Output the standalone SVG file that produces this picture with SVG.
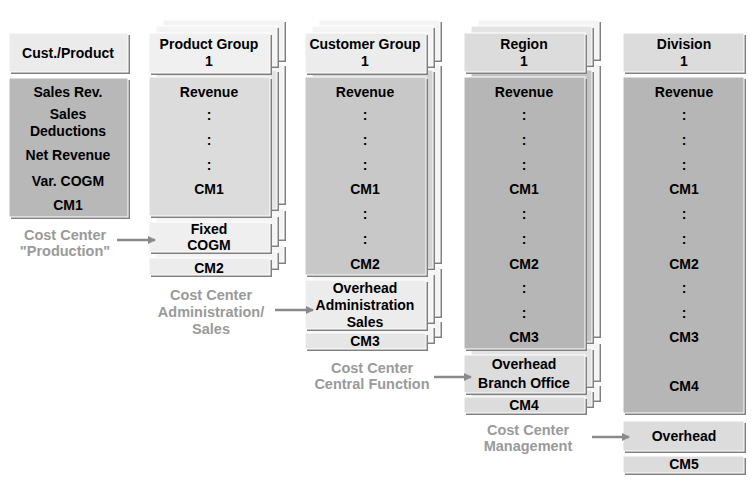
<svg xmlns="http://www.w3.org/2000/svg" width="755" height="481" viewBox="0 0 755 481">
<style>
text{font-family:"Liberation Sans",Arial,sans-serif;font-weight:bold;font-size:14px;text-anchor:middle;fill:#000}
.g{fill:#9a9a9a;font-size:14.5px}
.sh{fill:#808080}
.bx{stroke:#fff;stroke-width:1}
.cp{fill:#f4f4f4;stroke:#fff;stroke-width:1}
</style>
<defs>
<marker id="ah" markerWidth="8" markerHeight="8" refX="7" refY="4" orient="auto" markerUnits="userSpaceOnUse"><path d="M0,0 L8,4 L0,8 z" fill="#8a8a8a"/></marker>
</defs>
<rect width="755" height="481" fill="#fff"/>
<g id="stacks">
<g transform="translate(14,-13)">
<rect class="sh" x="151" y="35" width="121" height="40"/><rect class="cp" x="149" y="33" width="121" height="40"/>
<rect class="sh" x="151" y="79" width="121" height="139"/><rect class="cp" x="149" y="77" width="121" height="139"/>
<rect class="sh" x="151" y="224" width="121" height="30"/><rect class="cp" x="149" y="222" width="121" height="30"/>
<rect class="sh" x="151" y="260" width="121" height="17"/><rect class="cp" x="149" y="258" width="121" height="17"/>
<rect class="sh" x="307" y="35" width="121" height="40"/><rect class="cp" x="305" y="33" width="121" height="40"/>
<rect class="sh" x="307" y="79" width="121" height="198"/><rect class="cp" x="305" y="77" width="121" height="198"/>
<rect class="sh" x="307" y="282" width="121" height="49"/><rect class="cp" x="305" y="280" width="121" height="49"/>
<rect class="sh" x="307" y="335" width="121" height="16"/><rect class="cp" x="305" y="333" width="121" height="16"/>
<rect class="sh" x="466" y="35" width="121" height="39"/><rect class="cp" x="464" y="33" width="121" height="39"/>
<rect class="sh" x="466" y="79" width="121" height="272"/><rect class="cp" x="464" y="77" width="121" height="272"/>
<rect class="sh" x="466" y="357" width="121" height="38"/><rect class="cp" x="464" y="355" width="121" height="38"/>
<rect class="sh" x="466" y="399" width="121" height="16"/><rect class="cp" x="464" y="397" width="121" height="16"/>
</g>
<g transform="translate(7,-7)">
<rect class="sh" x="151" y="35" width="121" height="40"/><rect class="cp" x="149" y="33" width="121" height="40"/>
<rect class="sh" x="151" y="79" width="121" height="139"/><rect class="cp" x="149" y="77" width="121" height="139" style="fill:#e4e4e4"/>
<rect class="sh" x="151" y="224" width="121" height="30"/><rect class="cp" x="149" y="222" width="121" height="30"/>
<rect class="sh" x="151" y="260" width="121" height="17"/><rect class="cp" x="149" y="258" width="121" height="17"/>
<rect class="sh" x="307" y="35" width="121" height="40"/><rect class="cp" x="305" y="33" width="121" height="40"/>
<rect class="sh" x="307" y="79" width="121" height="198"/><rect class="cp" x="305" y="77" width="121" height="198" style="fill:#d4d4d4"/>
<rect class="sh" x="307" y="282" width="121" height="49"/><rect class="cp" x="305" y="280" width="121" height="49"/>
<rect class="sh" x="307" y="335" width="121" height="16"/><rect class="cp" x="305" y="333" width="121" height="16"/>
<rect class="sh" x="466" y="35" width="121" height="39"/><rect class="cp" x="464" y="33" width="121" height="39" style="fill:#e4e4e4"/>
<rect class="sh" x="466" y="79" width="121" height="272"/><rect class="cp" x="464" y="77" width="121" height="272" style="fill:#c4c4c4"/>
<rect class="sh" x="466" y="357" width="121" height="38"/><rect class="cp" x="464" y="355" width="121" height="38" style="fill:#e4e4e4"/>
<rect class="sh" x="466" y="399" width="121" height="16"/><rect class="cp" x="464" y="397" width="121" height="16" style="fill:#e4e4e4"/>
</g>
</g>
<g id="col0">
<rect class="sh" x="11" y="35" width="119" height="39"/><rect class="bx" x="9" y="33" width="119" height="39" fill="#ebebeb"/>
<rect class="sh" x="11" y="80" width="119" height="139"/><rect class="bx" x="9" y="78" width="119" height="139" fill="#b8b8b8"/>
<text x="68" y="58">Cust./Product</text>
<text x="68" y="97">Sales Rev.</text><text x="68" y="119">Sales</text><text x="68" y="136">Deductions</text>
<text x="68" y="160">Net Revenue</text><text x="68" y="186">Var. COGM</text><text x="68" y="210">CM1</text>
</g>
<g id="col1">
<rect class="sh" x="151" y="35" width="121" height="40"/><rect class="bx" x="149" y="33" width="121" height="40" fill="#f0f0f0"/>
<rect class="sh" x="151" y="79" width="121" height="139"/><rect class="bx" x="149" y="77" width="121" height="139" fill="#dcdcdc"/>
<rect class="sh" x="151" y="224" width="121" height="30"/><rect class="bx" x="149" y="222" width="121" height="30" fill="#efefef"/>
<rect class="sh" x="151" y="260" width="121" height="17"/><rect class="bx" x="149" y="258" width="121" height="17" fill="#ececec"/>
<text x="209" y="49">Product Group</text><text x="209" y="66">1</text>
<text x="209" y="97">Revenue</text><text x="209" y="120">:</text><text x="209" y="145">:</text><text x="209" y="170">:</text>
<text x="209" y="194">CM1</text><text x="209" y="234">Fixed</text><text x="209" y="250">COGM</text><text x="209" y="273">CM2</text>
</g>
<g id="col2">
<rect class="sh" x="307" y="35" width="121" height="40"/><rect class="bx" x="305" y="33" width="121" height="40" fill="#ececec"/>
<rect class="sh" x="307" y="79" width="121" height="198"/><rect class="bx" x="305" y="77" width="121" height="198" fill="#c8c8c8"/>
<rect class="sh" x="307" y="282" width="121" height="49"/><rect class="bx" x="305" y="280" width="121" height="49" fill="#ececec"/>
<rect class="sh" x="307" y="335" width="121" height="16"/><rect class="bx" x="305" y="333" width="121" height="16" fill="#e6e6e6"/>
<text x="365" y="49">Customer Group</text><text x="365" y="66">1</text>
<text x="365" y="97">Revenue</text><text x="365" y="120">:</text><text x="365" y="145">:</text><text x="365" y="170">:</text>
<text x="365" y="194">CM1</text><text x="365" y="219">:</text><text x="365" y="244">:</text><text x="365" y="269">CM2</text>
<text x="365" y="293">Overhead</text><text x="365" y="310">Administration</text><text x="365" y="327">Sales</text><text x="365" y="346">CM3</text>
</g>
<g id="col3">
<rect class="sh" x="466" y="35" width="121" height="39"/><rect class="bx" x="464" y="33" width="121" height="39" fill="#dcdcdc"/>
<rect class="sh" x="466" y="79" width="121" height="272"/><rect class="bx" x="464" y="77" width="121" height="272" fill="#b6b6b6"/>
<rect class="sh" x="466" y="357" width="121" height="38"/><rect class="bx" x="464" y="355" width="121" height="38" fill="#dcdcdc"/>
<rect class="sh" x="466" y="399" width="121" height="16"/><rect class="bx" x="464" y="397" width="121" height="16" fill="#dcdcdc"/>
<text x="524" y="49">Region</text><text x="524" y="66">1</text>
<text x="524" y="97">Revenue</text><text x="524" y="120">:</text><text x="524" y="145">:</text><text x="524" y="170">:</text>
<text x="524" y="194">CM1</text><text x="524" y="219">:</text><text x="524" y="244">:</text><text x="524" y="269">CM2</text>
<text x="524" y="293">:</text><text x="524" y="318">:</text><text x="524" y="342">CM3</text>
<text x="524" y="369">Overhead</text><text x="524" y="388">Branch Office</text><text x="524" y="410">CM4</text>
</g>
<g id="col4">
<rect class="sh" x="625" y="35" width="121" height="39"/><rect class="bx" x="623" y="33" width="121" height="39" fill="#dcdcdc"/>
<rect class="sh" x="625" y="79" width="121" height="336"/><rect class="bx" x="623" y="77" width="121" height="336" fill="#b6b6b6"/>
<rect class="sh" x="625" y="423" width="121" height="30"/><rect class="bx" x="623" y="421" width="121" height="30" fill="#dcdcdc"/>
<rect class="sh" x="625" y="458" width="121" height="17"/><rect class="bx" x="623" y="456" width="121" height="17" fill="#dcdcdc"/>
<text x="684" y="49">Division</text><text x="684" y="66">1</text>
<text x="684" y="97">Revenue</text><text x="684" y="120">:</text><text x="684" y="145">:</text><text x="684" y="170">:</text>
<text x="684" y="194">CM1</text><text x="684" y="219">:</text><text x="684" y="244">:</text><text x="684" y="269">CM2</text>
<text x="684" y="293">:</text><text x="684" y="318">:</text><text x="684" y="342">CM3</text>
<text x="684" y="391">CM4</text><text x="684" y="441">Overhead</text><text x="684" y="469">CM5</text>
</g>
<g id="labels">
<text class="g" x="65" y="240">Cost Center</text><text class="g" x="65" y="256">"Production"</text>
<text class="g" x="211" y="300">Cost Center</text><text class="g" x="211" y="317">Administration/</text><text class="g" x="211" y="334">Sales</text>
<text class="g" x="372" y="373">Cost Center</text><text class="g" x="372" y="389">Central Function</text>
<text class="g" x="528" y="435">Cost Center</text><text class="g" x="528" y="451">Management</text>
</g>
<g id="connectors" stroke="#8a8a8a" stroke-width="2.5" marker-end="url(#ah)">
<line x1="117" y1="240" x2="155" y2="240"/>
<line x1="275" y1="310" x2="313" y2="310"/>
<line x1="434" y1="377" x2="471" y2="377"/>
<line x1="592" y1="437" x2="629" y2="437"/>
</g>
</svg>
